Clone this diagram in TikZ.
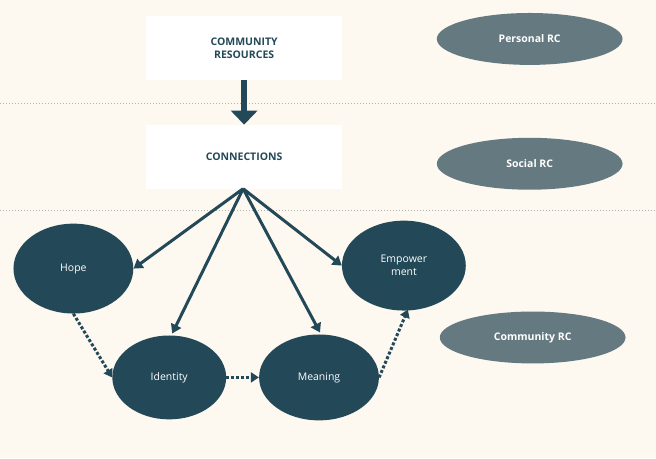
\documentclass[tikz,border=0pt]{standalone}
\usepackage{fontspec}
\setmainfont{Open Sans}
\usetikzlibrary{arrows.meta,shapes.geometric}
\definecolor{bg}{HTML}{FDF8F0}
\definecolor{dk}{HTML}{234858}
\definecolor{gr}{HTML}{647A80}
\begin{document}
\begin{tikzpicture}[x=1pt,y=-1pt,
 box/.style={fill=white,minimum width=196pt,minimum height=64pt,align=center,font=\bfseries\fontsize{10.5}{13}\selectfont,text=dk},
 rc/.style={ellipse,fill=gr,minimum width=186pt,minimum height=52pt,text=white,font=\bfseries\fontsize{10.5}{13}\selectfont},
 cir/.style={ellipse,fill=dk,text=white,font=\fontsize{10.5}{13}\selectfont,align=center},
 arr/.style={dk,line width=3pt,-{Triangle[length=9pt,width=11pt]}},
 dar/.style={dk,line width=3pt,dotted,-{Triangle[length=8pt,width=10pt]}}]
\fill[bg] (0,0) rectangle (656,459);
\draw[gray!60,line width=1pt,dotted] (0,104) -- (656,104) (0,211) -- (656,211);
\node[box] (cr) at (244,48) {COMMUNITY\\RESOURCES};
\node[box] (cn) at (244,157) {CONNECTIONS};
\node[rc] (p) at (530,39) {Personal RC};
\node[rc] (s) at (530,164) {Social RC};
\node[rc] (c) at (533,338) {Community RC};
\node[cir,minimum width=120pt,minimum height=90pt] (h) at (73,269) {Hope};
\node[cir,minimum width=114pt,minimum height=84pt] (i) at (169,378) {Identity};
\node[cir,minimum width=120pt,minimum height=86pt] (m) at (319,378) {Meaning};
\node[cir,minimum width=124pt,minimum height=90pt] (e) at (404,266) {Empower\\ment};
\coordinate (o) at (243,189);
\draw[dk,line width=6pt,-{Triangle[length=14pt,width=26pt]}] (cr.south) -- (cn.north);
\draw[arr] (o) -- (h.east);
\draw[arr] (o) -- (172,334);
\draw[arr] (o) -- (320,333);
\draw[arr] (o) -- (e.west);
\draw[dar] (h.south) -- (i.west);
\draw[dar] (i.east) -- (m.west);
\draw[dar] (m.east) -- (408,310);
\end{tikzpicture}
\end{document}
